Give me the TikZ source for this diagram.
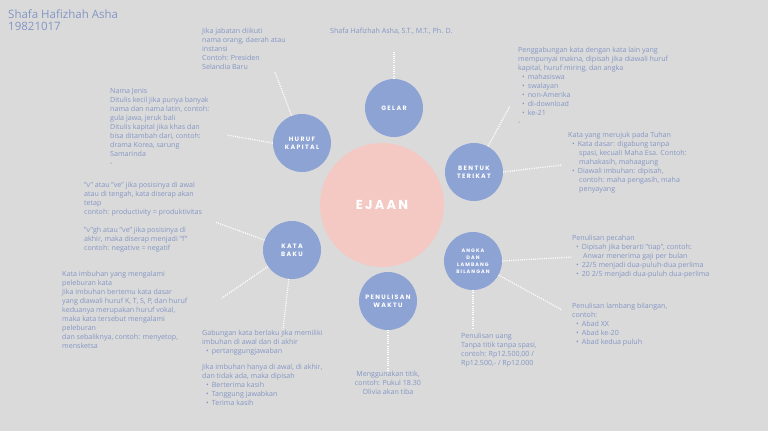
\documentclass[tikz,border=0pt]{standalone}
\usepackage{fontspec}
\setmainfont{Open Sans}
\newfontfamily\headf{Poppins}
\definecolor{bg}{HTML}{DADADA}
\definecolor{blu}{HTML}{8DA3D4}
\definecolor{pnk}{HTML}{F4C9C3}
\definecolor{txt}{HTML}{8396C4}
\begin{document}
\begin{tikzpicture}[x=1pt,y=-1pt,
  bub/.style={circle,fill=blu,minimum size=58pt,inner sep=0pt,text=white,font=\headf\fontsize{6.3}{8}\selectfont\bfseries,align=center},
  con/.style={white,line width=1.3pt,dash pattern=on 1pt off 1.2pt},
  tx/.style={anchor=north west,inner sep=0pt,text=txt,align=left,font=\fontsize{7.1}{9}\selectfont}]
\fill[bg] (0,0) rectangle (768,431);
\useasboundingbox (0,0) rectangle (768,431);
\newcommand{\bu}{\hspace*{4pt}•\hspace{3pt}}
\newcommand{\bi}{\hspace*{11pt}}
\node[circle,fill=pnk,minimum size=124pt,inner sep=0pt,text=white,font=\headf\fontsize{13}{14}\selectfont\bfseries] (ej) at (382,205) {E\,J\,A\,A\,N};
\node[bub] (gelar) at (394,108) {G E L A R};
\node[bub] (huruf) at (302,143) {H U R U F\\K A P I T A L};
\node[bub] (bentuk) at (474,172) {B E N T U K\\T E R I K A T};
\node[bub] (baku) at (292,250) {K A T A\\B A K U};
\node[bub,font=\headf\fontsize{5}{7}\selectfont\bfseries] (angka) at (473,261) {A N G K A\\D A N\\L A M B A N G\\B I L A N G A N};
\node[bub] (waktu) at (388,301) {P E N U L I S A N\\W A K T U};

\node[tx,font=\fontsize{11.5}{13}\selectfont] (nm) at (8,9) {Shafa Hafizhah Asha\\19821017};
\node[tx] (t1) at (202,28) {Jika jabatan diikuti\\nama orang, daerah atau\\instansi\\Contoh: Presiden\\Selandia Baru};
\node[tx] (t2) at (110,88) {Nama Jenis\\Ditulis kecil jika punya banyak\\nama dan nama latin, contoh:\\gula jawa, jeruk bali\\Ditulis kapital jika khas dan\\bisa ditambah dari, contoh:\\drama Korea, sarung\\Samarinda\\-};
\node[tx] (t3) at (84,182) {"v" atau "ve" jika posisinya di awal\\atau di tengah, kata diserap akan\\tetap\\contoh: productivity = produktivitas};
\node[tx] (t4) at (84,227) {"v"gh atau "ve" jika posisinya di\\akhir, maka diserap menjadi "f"\\contoh: negative = negatif};
\node[tx] (t5) at (62,271) {Kata imbuhan yang mengalami\\peleburan kata\\Jika imbuhan bertemu kata dasar\\yang diawali huruf K, T, S, P, dan huruf\\keduanya merupakan huruf vokal,\\maka kata tersebut mengalami\\peleburan\\dan sebaliknya, contoh: menyetop,\\mensketsa};
\node[tx] (t6) at (202,330) {Gabungan kata berlaku jika memiliki\\imbuhan di awal dan di akhir\\\bu pertanggungjawaban};
\node[tx] (t7) at (202,364) {Jika imbuhan hanya di awal, di akhir,\\dan tidak ada, maka dipisah\\\bu Berterima kasih\\\bu Tanggung jawabkan\\\bu Terima kasih};
\node[tx] (t8) at (330,28) {Shafa Hafizhah Asha, S.T., M.T., Ph. D.};
\node[tx] (t9) at (518,47) {Penggabungan kata dengan kata lain yang\\mempunyai makna, dipisah jika diawali huruf\\kapital, huruf miring, dan angka\\\bu mahasiswa\\\bu swalayan\\\bu non-Amerika\\\bu di-download\\\bu ke-21\\-};
\node[tx] (t10) at (568,132) {Kata yang merujuk pada Tuhan\\\bu Kata dasar: digabung tanpa\\\bi spasi, kecuali Maha Esa. Contoh:\\\bi mahakasih, mahaagung\\\bu Diawali imbuhan: dipisah,\\\bi contoh: maha pengasih, maha\\\bi penyayang};
\node[tx] (t11) at (572,235) {Penulisan pecahan\\\bu Dipisah jika berarti "tiap", contoh:\\\bi Anwar menerima gaji per bulan\\\bu 22/5 menjadi dua-puluh-dua perlima\\\bu 20 2/5 menjadi dua-puluh dua-perlima};
\node[tx] (t12) at (572,303) {Penulisan lambang bilangan,\\contoh:\\\bu Abad XX\\\bu Abad ke-20\\\bu Abad kedua puluh};
\node[tx] (t13) at (461,333) {Penulisan uang\\Tanpa titik tanpa spasi,\\contoh: Rp12.500,00 /\\Rp12.500,- / Rp12.000};
\node[tx,anchor=north,align=center] (t14) at (388,371) {Menggunakan titik,\\contoh: Pukul 18.30\\Olivia akan tiba};

\coordinate (g1) at (394,52);
\coordinate (h1) at (275,72); \coordinate (h2) at (227,135);
\coordinate (b1) at (510,106); \coordinate (b2) at (562,165);
\coordinate (k1) at (215,222); \coordinate (k2) at (222,298); \coordinate (k3) at (283,330);
\coordinate (a1) at (572,257); \coordinate (a2) at (562,310); \coordinate (a3) at (473,328);
\coordinate (w1) at (388,371);
\draw[con] (gelar) -- (g1);
\draw[con] (huruf) -- (h1); \draw[con] (huruf.west) -- (h2);
\draw[con] (bentuk) -- (b1); \draw[con] (bentuk.east) -- (b2);
\draw[con] (baku) -- (k1); \draw[con] (baku) -- (k2); \draw[con] (baku) -- (k3);
\draw[con] (angka.east) -- (a1); \draw[con] (angka) -- (a2); \draw[con] (angka) -- (a3);
\draw[con] (waktu) -- (w1);
\end{tikzpicture}
\end{document}
